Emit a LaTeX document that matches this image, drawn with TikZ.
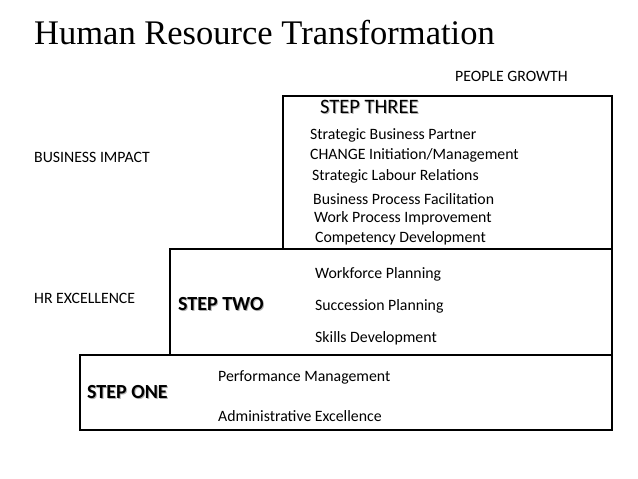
\documentclass[tikz,border=0pt]{standalone}
\usepackage{fontspec}
\setmainfont{Carlito}
\newfontfamily\titlefont{Liberation Serif}
\begin{document}
\begin{tikzpicture}[x=1pt,y=-1pt,
  lbl/.style={anchor=west,inner sep=0pt,font=\fontsize{15.8}{18}\selectfont},
  stp/.style={anchor=west,inner sep=0pt,font=\fontsize{20.5}{24}\selectfont},
  shd/.style={stp,text=black!30},
  boxs/.style={draw=black,line width=1.3pt}]
\useasboundingbox (0,0) rectangle (638,479);
\draw[boxs] (80,430) -- (80,355) -- (170,355) -- (170,249) -- (283,249) -- (283,96) -- (612,96) -- (612,430) -- cycle;
\draw[boxs] (170,355) -- (612,355);
\draw[boxs] (283,249) -- (612,249);
\node[anchor=west,inner sep=0pt,font=\titlefont\fontsize{34.5}{38}\selectfont] (title) at (34,33) {Human Resource Transformation};
\node[lbl] (pg) at (455,76) {PEOPLE GROWTH};
\node[lbl] (bi) at (34,157) {BUSINESS IMPACT};
\node[lbl] (he) at (34,298) {HR EXCELLENCE};
\node[shd] at (321,108) {STEP THREE};
\node[stp] (s3) at (320,107) {STEP THREE};
\node[shd,font=\bfseries\fontsize{20}{24}\selectfont] at (179,305) {STEP TWO};
\node[stp,font=\bfseries\fontsize{20}{24}\selectfont] (s2) at (178,304) {STEP TWO};
\node[shd,font=\bfseries\fontsize{20}{24}\selectfont] at (88,393) {STEP ONE};
\node[stp,font=\bfseries\fontsize{20}{24}\selectfont] (s1) at (87,392) {STEP ONE};
\node[lbl] (a1) at (310,135) {Strategic Business Partner};
\node[lbl] (a2) at (310,155) {CHANGE Initiation/Management};
\node[lbl] (a3) at (312,176) {Strategic Labour Relations};
\node[lbl] (a4) at (313,199) {Business Process Facilitation};
\node[lbl] (a5) at (314,218) {Work Process Improvement};
\node[lbl] (a6) at (315,238) {Competency Development};
\node[lbl] (b1) at (315,274) {Workforce Planning};
\node[lbl] (b2) at (315,306) {Succession Planning};
\node[lbl] (b3) at (315,338) {Skills Development};
\node[lbl] (c1) at (218,377) {Performance Management};
\node[lbl] (c2) at (218,416) {Administrative Excellence};
\end{tikzpicture}
\end{document}
